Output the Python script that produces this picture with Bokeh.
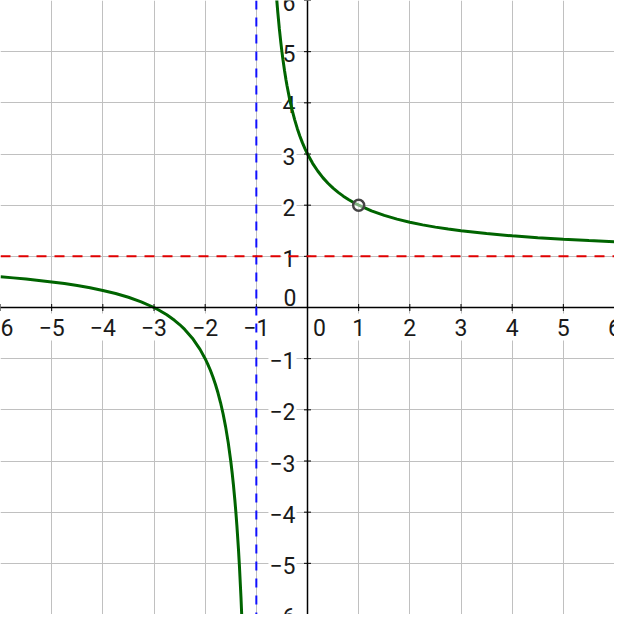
import math
from bokeh.plotting import figure
from bokeh.models import Grid, FixedTicker, Span, Label
from bokeh.embed import file_html
from bokeh.resources import INLINE

# ---- data ----
tick_vals = [-6, -5, -4, -3, -2, -1, 0, 1, 2, 3, 4, 5, 6]
x_label_vals = [-6, -5, -4, -3, -2, -1, 1, 2, 3, 4, 5, 6]
x_label_text = ["\u22126", "\u22125", "\u22124", "\u22123", "\u22122", "\u22121",
                "1", "2", "3", "4", "5", "6"]
y_label_vals = [-6, -5, -4, -3, -2, -1, 1, 2, 3, 4, 5, 6]
y_label_text = ["\u22126", "\u22125", "\u22124", "\u22123", "\u22122", "\u22121",
                "1", "2", "3", "4", "5", "6"]

# right branch of the curve
right_x = [-0.62, -0.6, -0.58, -0.55, -0.52, -0.5, -0.48, -0.45, -0.42, -0.4, -0.35,
           -0.3, -0.25, -0.2, -0.15, -0.1, -0.05, 0, 0.1, 0.2, 0.3, 0.4, 0.5, 0.6,
           0.7, 0.8, 0.9, 1, 1.25, 1.5, 1.75, 2, 2.25, 2.5, 2.75, 3, 3.5, 4, 4.5,
           5, 5.5, 6]
right_y = [6.263, 6.0, 5.762, 5.444, 5.167, 5.0, 4.846, 4.636, 4.448, 4.333, 4.077,
           3.857, 3.667, 3.5, 3.353, 3.222, 3.105, 3.0, 2.818, 2.667, 2.538, 2.429,
           2.333, 2.25, 2.176, 2.111, 2.053, 2.0, 1.889, 1.8, 1.727, 1.667, 1.615,
           1.571, 1.533, 1.5, 1.444, 1.4, 1.364, 1.333, 1.308, 1.286]
# left branch of the curve
left_x = [-6, -5.75, -5.5, -5.25, -5, -4.75, -4.5, -4.25, -4, -3.75, -3.5, -3.25,
          -3, -2.9, -2.75, -2.6, -2.5, -2.4, -2.25, -2.1, -2, -1.95, -1.9, -1.85,
          -1.8, -1.75, -1.7, -1.65, -1.6, -1.55, -1.5, -1.47, -1.45, -1.42, -1.4,
          -1.38, -1.35, -1.33, -1.3, -1.28]
left_y = [0.6, 0.579, 0.556, 0.529, 0.5, 0.467, 0.429, 0.385, 0.333, 0.273, 0.2,
          0.111, 0.0, -0.053, -0.143, -0.25, -0.333, -0.429, -0.6, -0.818, -1.0,
          -1.105, -1.222, -1.353, -1.5, -1.667, -1.857, -2.077, -2.333, -2.636,
          -3.0, -3.255, -3.444, -3.762, -4.0, -4.263, -4.714, -5.061, -5.667,
          -6.143]

hole_x = [1]
hole_y = [2]
asym_x = -1
asym_y = 1

# ---- figure ----
p = figure(width=614, height=614, x_range=(-6, 6), y_range=(-6, 6),
           x_axis_type=None, y_axis_type=None, output_backend="svg",
           toolbar_location=None, min_border=0, outline_line_color=None,
           background_fill_color="white")

p.add_layout(Grid(dimension=0, ticker=FixedTicker(ticks=tick_vals),
                  grid_line_color="#c0c0c0", grid_line_width=1))
p.add_layout(Grid(dimension=1, ticker=FixedTicker(ticks=tick_vals),
                  grid_line_color="#c0c0c0", grid_line_width=1))

FONT = "Roboto"
FS = "23px"
TC = "#1a1a1a"

for xv, t in zip(x_label_vals, x_label_text):
    p.add_layout(Label(x=xv, y=0, text=t, text_font=FONT, text_font_size=FS,
                       text_color=TC, text_align="center", text_baseline="middle",
                       y_offset=-19.5, background_fill_color="white",
                       padding=dict(left=1, right=1, top=5, bottom=5),
                       level="underlay"))

for yv, t in zip(y_label_vals, y_label_text):
    p.add_layout(Label(x=0, y=yv, text=t, text_font=FONT, text_font_size=FS,
                       text_color=TC, text_align="right", text_baseline="middle",
                       x_offset=-11, y_offset=-2, background_fill_color="white",
                       padding=dict(left=1, right=1, top=1, bottom=1),
                       level="underlay"))

# origin labels
p.add_layout(Label(x=0, y=0, text="0", text_font=FONT, text_font_size=FS,
                   text_color=TC, text_align="right", text_baseline="middle",
                   x_offset=-11, y_offset=10, level="underlay"))
p.add_layout(Label(x=0, y=0, text="0", text_font=FONT, text_font_size=FS,
                   text_color=TC, text_align="center", text_baseline="middle",
                   x_offset=12, y_offset=-19.5, level="underlay"))

# axes lines
p.add_layout(Span(location=0, dimension="width", line_color="black", line_width=1.5))
p.add_layout(Span(location=0, dimension="height", line_color="black", line_width=1.5))

# tick marks
p.scatter(x=tick_vals, y=[0] * len(tick_vals), marker="dash", angle=math.pi / 2,
          size=7, line_color="black", line_width=1)
p.scatter(x=[0] * len(tick_vals), y=tick_vals, marker="dash",
          size=7, line_color="black", line_width=1)

# asymptotes
p.add_layout(Span(location=asym_x, dimension="height", line_color="#1010ff",
                  line_width=2, line_dash="9 8"))
p.add_layout(Span(location=asym_y, dimension="width", line_color="#e00000",
                  line_width=2, line_dash="10 8"))

# curve
p.line(right_x, right_y, line_color="#006400", line_width=3)
p.line(left_x, left_y, line_color="#006400", line_width=3)

# hole
p.scatter(hole_x, hole_y, size=11, marker="circle", line_color="#444444",
          line_width=2.5, fill_color="white", fill_alpha=0.5)

open("out.html", "w").write(file_html(p, INLINE))
